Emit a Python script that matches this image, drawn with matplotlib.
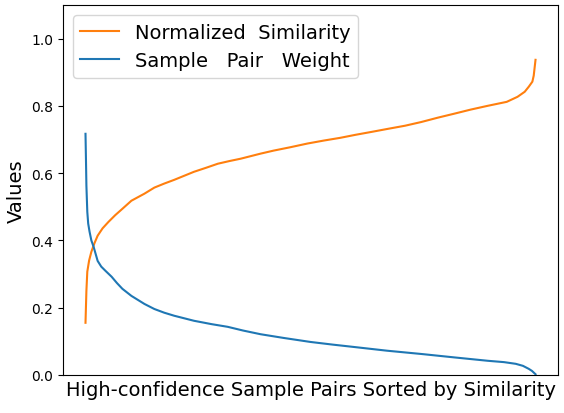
import matplotlib
matplotlib.use("Agg")
import matplotlib.pyplot as plt

# rank positions (out of ~1000 sorted pairs)
sim_rank = [0, 2, 4, 8, 13, 20, 27, 38, 51, 66, 82, 102, 131, 153, 175, 197, 219, 241, 268, 294, 320, 345, 389, 418, 455, 493, 530, 566, 600, 637, 673, 710, 746, 783, 820, 856, 893, 936, 960, 976, 985, 993, 996, 1000]
sim_vals = [0.155, 0.25, 0.307, 0.340, 0.366, 0.392, 0.414, 0.436, 0.455, 0.475, 0.494, 0.518, 0.539, 0.557, 0.569, 0.580, 0.592, 0.604, 0.616, 0.628, 0.636, 0.643, 0.658, 0.667, 0.677, 0.688, 0.697, 0.705, 0.714, 0.723, 0.732, 0.741, 0.752, 0.765, 0.777, 0.789, 0.800, 0.812, 0.827, 0.842, 0.857, 0.872, 0.890, 0.937]

w_rank = [0, 1, 2, 4, 6, 9, 13, 18, 27, 35, 44, 58, 70, 82, 102, 131, 153, 175, 197, 241, 280, 316, 350, 389, 440, 500, 550, 597, 670, 748, 820, 894, 930, 956, 972, 985, 992, 996, 1000]
w_vals = [0.717, 0.643, 0.563, 0.485, 0.450, 0.426, 0.400, 0.381, 0.339, 0.322, 0.310, 0.292, 0.273, 0.256, 0.235, 0.211, 0.196, 0.185, 0.176, 0.161, 0.151, 0.143, 0.132, 0.121, 0.110, 0.098, 0.090, 0.083, 0.072, 0.062, 0.052, 0.042, 0.038, 0.033, 0.027, 0.018, 0.012, 0.007, 0.002]

fig = plt.figure(figsize=(5.64, 4.14), dpi=100)
ax = fig.add_axes([0.1117, 0.092, 0.8777, 0.8935])
ax.plot(sim_rank, sim_vals, color="#ff7f0e", lw=1.5, label="Normalized  Similarity")
ax.plot(w_rank, w_vals, color="#1f77b4", lw=1.5, label="Sample   Pair   Weight")
ax.set_ylim(0, 1.1)
ax.set_xticks([])
ax.set_xlabel("High-confidence Sample Pairs Sorted by Similarity", fontsize=14)
ax.set_ylabel("Values", fontsize=14)
ax.legend(loc="upper left", fontsize=14)
fig.savefig("out.png", dpi=100)
